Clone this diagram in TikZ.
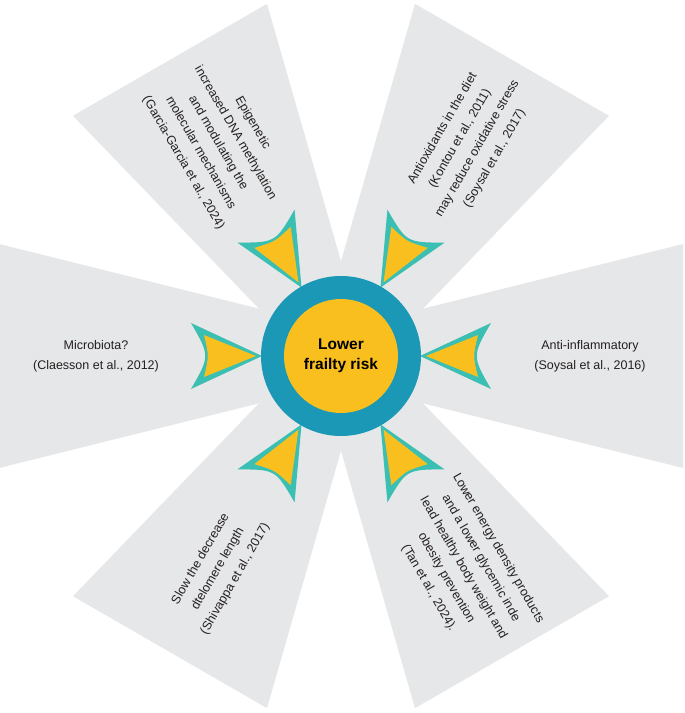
\documentclass[tikz,border=0pt]{standalone}
\usepackage{fontspec}
\setmainfont{Liberation Sans}
\definecolor{wedgegray}{HTML}{E6E7E8}
\definecolor{ringteal}{HTML}{1A98B5}
\definecolor{arrowteal}{HTML}{3ABFB2}
\definecolor{sunyellow}{HTML}{F8BF1F}
\definecolor{inktext}{HTML}{231F20}
\begin{document}
\begin{tikzpicture}[x=1pt,y=1pt,
  wedge/.style={fill=wedgegray,draw=none},
  arrowout/.style={fill=arrowteal,draw=none},
  arrowin/.style={fill=sunyellow,draw=none},
  label/.style={text=inktext,align=center,inner sep=0pt,
    font=\fontsize{12.5}{20}\selectfont},
  hub/.style={circle,fill=ringteal,minimum size=160pt,inner sep=0pt},
  core/.style={circle,fill=sunyellow,minimum size=114pt,inner sep=0pt,
    align=center,text=black,font=\fontsize{15.5}{20}\selectfont\bfseries}]
\useasboundingbox (-341,-357) rectangle (344,356);
% wedges
\foreach \a in {0,60,120,180,240,300}{
  \begin{scope}[rotate=\a]
    \fill[wedge] (0,27) -- (342,112) -- (342,-112) -- (0,-27) -- cycle;
  \end{scope}
}
% arrows
\foreach \a in {0,60,120,180,240,300}{
  \begin{scope}[rotate=\a]
    \fill[arrowout] (79,0) -- (150,33) .. controls (131,0) .. (150,-33) -- cycle;
    \fill[arrowin] (85,0) -- (137,21) .. controls (132,0) .. (137,-21) -- cycle;
  \end{scope}
}
% hub
\node[hub] (ring) at (0,0) {};
\node[core] (center) at (0,0) {Lower\\frailty risk};
% labels
\node[label] (microbiota) at (180:245) {Microbiota?\\(Claesson et al., 2012)};
\node[label] (antiinfl) at (0:249) {Anti-inflammatory\\(Soysal et al., 2016)};
\node[label,rotate=-60] (epigen) at (120:246) {Epigenetic\\increased DNA methylation\\and modulating the\\molecular mechanisms\\(Garcia-Garcia et al., 2024)};
\node[label,rotate=60] (antiox) at (59:248) {Antioxidants in the diet\\(Kontou et al., 2011)\\may reduce oxidative stress\\(Soysal et al., 2017)};
\node[label,rotate=60] (telomere) at (240:246) {Slow the decrease\\dtelomere length\\(Shivappa et al., 2017)};
\node[label,rotate=-60] (energy) at (300:245) {Lower energy density products\\and a lower glycemic inde\\lead healthy body weight and\\obesity prevention\\(Tan et al., 2024).};
\end{tikzpicture}
\end{document}
